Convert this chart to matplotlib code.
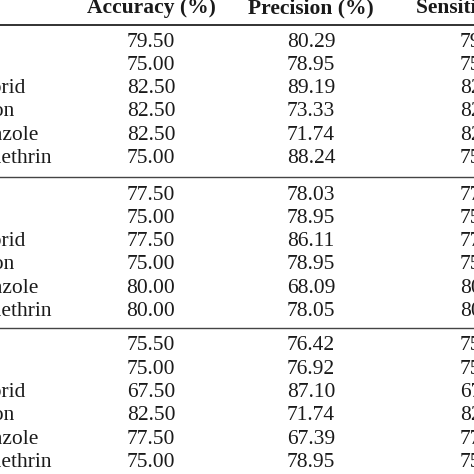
import matplotlib
matplotlib.use("Agg")
import matplotlib.pyplot as plt
from matplotlib.lines import Line2D

headers = ["Accuracy (%)", "Precision (%)", "Sensitivity (%)"]
labels = ["ANN", "SVM", "Imidacloprid", "Malathion", "Tebuconazole", "Cypermethrin"]
accuracy = [[79.50, 75.00, 82.50, 82.50, 82.50, 75.00],
            [77.50, 75.00, 77.50, 75.00, 80.00, 80.00],
            [75.50, 75.00, 67.50, 82.50, 77.50, 75.00]]
precision = [[80.29, 78.95, 89.19, 73.33, 71.74, 88.24],
             [78.03, 78.95, 86.11, 78.95, 68.09, 78.05],
             [76.42, 76.92, 87.10, 71.74, 67.39, 78.95]]
sensitivity = [[79.50, 75.00, 82.50, 82.50, 82.50, 75.00],
               [77.50, 75.00, 77.50, 75.00, 80.00, 80.00],
               [75.50, 75.00, 67.50, 82.50, 77.50, 75.00]]

W = H = 474
fig = plt.figure(figsize=(4.74, 4.74), dpi=100)
ax = fig.add_axes([0, 0, 1, 1])
ax.set_xlim(0, W); ax.set_ylim(H, 0); ax.axis("off")

font = dict(family="Liberation Serif", fontsize=15.5, color="#1a1a1a")
col_x = [151, 311]
ax.text(151, 8, headers[0], ha="center", va="center", fontweight="bold", **font)
ax.text(311, 8, headers[1], ha="center", va="center", fontweight="bold", **font)
ax.text(416, 8, headers[2], ha="left", va="center", fontweight="bold", **font)

ax.add_line(Line2D([0, W], [25, 25], color="#222", lw=1.3))
ax.add_line(Line2D([0, W], [177, 177], color="#444", lw=1.0))
ax.add_line(Line2D([0, W], [328, 328], color="#444", lw=1.0))

label_end = [-20, -20, 26, 15, 39, 52]
block_start = [42, 195, 346]
step = 23.3
for b in range(3):
    for r in range(6):
        y = block_start[b] + r * step
        ax.text(label_end[r], y, labels[r], ha="right", va="center", **font)
        ax.text(col_x[0], y, f"{accuracy[b][r]:.2f}", ha="center", va="center", **font)
        ax.text(col_x[1], y, f"{precision[b][r]:.2f}", ha="center", va="center", **font)
        ax.text(460, y, f"{sensitivity[b][r]:.2f}", ha="left", va="center", **font)

fig.savefig("out.png", dpi=100)
